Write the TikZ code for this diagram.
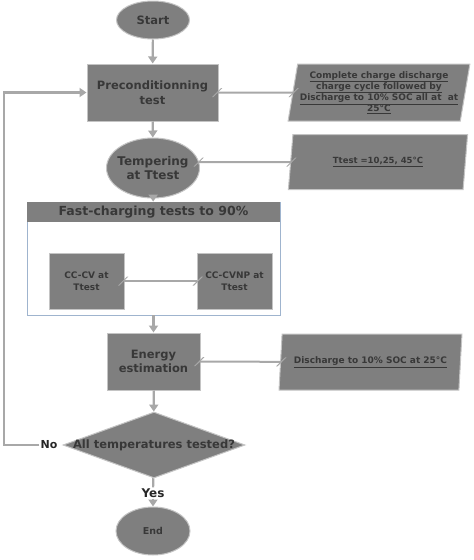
\documentclass[tikz,border=0pt]{standalone}
\usepackage{fontspec}
\setmainfont{DejaVu Sans}
\usepackage{xcolor}
\usetikzlibrary{positioning,calc,arrows.meta,shapes.geometric}

\definecolor{boxgray}{HTML}{7F7F7F}
\definecolor{rimgray}{HTML}{C4C4C4}
\definecolor{linegray}{HTML}{A8A8A8}
\definecolor{txtgray}{HTML}{383838}
\definecolor{frameblue}{HTML}{9FB4CE}

\begin{document}
\begin{tikzpicture}[x=1pt, y=-1pt, >={Triangle[width=9pt,length=7pt]}, main/.style = {draw=rimgray, line width=1pt, fill=boxgray, text=txtgray, align=center, inner sep=1pt}, blk/.style={main, rectangle}, oval/.style={main, ellipse}, slab/.style={main, trapezium, trapezium left angle=78, trapezium right angle=102, trapezium stretches=true, font=\bfseries\fontsize{9}{11.2}\selectfont}, link/.style={draw=linegray, line width=2.2pt}, tick/.style={draw=linegray, line width=2pt, shorten <=-2pt, shorten >=-2pt, {Bar[width=9pt,line width=1.4pt,slant=1]}-{Bar[width=9pt,line width=1.4pt,slant=1]}}]

\useasboundingbox (0,0) rectangle (474,560);

\node[oval, minimum width=73, minimum height=38, font=\bfseries\fontsize{11.5}{13}\selectfont] (start) at (153,20) {Start};
\node[blk, minimum width=131, minimum height=57, font=\bfseries\fontsize{11.5}{14.5}\selectfont] (pre) at (152.5,92.5) {Preconditionning\\test};
\node[slab, minimum width=182, minimum height=57] (par1) at (379,92.5) {\underline{Complete charge discharge}\\\underline{charge cycle followed by}\\\underline{Discharge to 10\% SOC all at\ \ at}\\\underline{25°C}};
\node[oval, inner xsep=-8pt, minimum width=93, minimum height=60, font=\bfseries\fontsize{12}{14.5}\selectfont] (temp) at (153,168) {Tempering\\at Ttest};
\node[slab, minimum width=181, minimum height=55, font=\bfseries\fontsize{8.5}{10}\selectfont] (par2) at (378,162) {\underline{Ttest =10,25, 45°C}};

\node[draw=frameblue, line width=0.8pt, fill=white, minimum width=253, minimum height=113, inner sep=0pt] (fast) at (153.5,258.5) {};
\node[fill=boxgray, minimum width=253, minimum height=20, inner sep=0pt, anchor=north, text=txtgray, font=\bfseries\fontsize{12.5}{13}\selectfont] (fasthdr) at (fast.north) {Fast-charging tests to 90\%};
\node[blk, minimum width=75, minimum height=56, font=\bfseries\fontsize{9}{11.5}\selectfont] (cccv) at (86.5,281) {CC-CV at\\Ttest};
\node[blk, minimum width=75, minimum height=56, font=\bfseries\fontsize{9}{11.5}\selectfont] (ccnp) at (234.5,281) {CC-CVNP at\\Ttest};

\node[blk, minimum width=93, minimum height=57, font=\bfseries\fontsize{11.5}{14.5}\selectfont] (energy) at (153.5,361.5) {Energy\\estimation};
\node[slab, minimum width=183, minimum height=56] (par3) at (370.5,362) {\underline{Discharge to 10\% SOC at 25°C}};

\node[main, diamond, aspect=2.76, minimum width=182, minimum height=66, inner sep=0pt, font=\bfseries\fontsize{11.5}{13}\selectfont] (dec) at (154,445) {\makebox[0pt]{All temperatures tested?}};
\node[text=black!85, font=\bfseries\fontsize{11}{12}\selectfont, inner sep=1pt] (no) at (49,445) {No};
\node[text=black!85, font=\bfseries\fontsize{12}{13}\selectfont, inner sep=1pt] (yes) at (153,493) {Yes};
\node[oval, minimum width=74, minimum height=48, font=\bfseries\fontsize{9.5}{10}\selectfont] (endn) at (153,531) {End};

\coordinate (loop) at (4,445);

% main flow
\draw[link, ->] (start) -- (pre);
\draw[link, ->] (pre) -- (temp);
\draw[link, ->] (temp) -- (fast);
\draw[link, ->] (fast) -- (energy);
\draw[link, ->] (energy) -- (dec);
\draw[link] (dec) -- (yes);
\draw[link, ->] (yes) -- (endn);
\draw[link, ->] (no.west) -- (loop) |- (pre);

% side inputs
\draw[tick] (pre) -- (par1);
\draw[tick] (par2) -- (par2 -| temp.east);
\draw[tick] (cccv) -- (ccnp);
\draw[tick] (energy) -- (par3);
\end{tikzpicture}
\end{document}
